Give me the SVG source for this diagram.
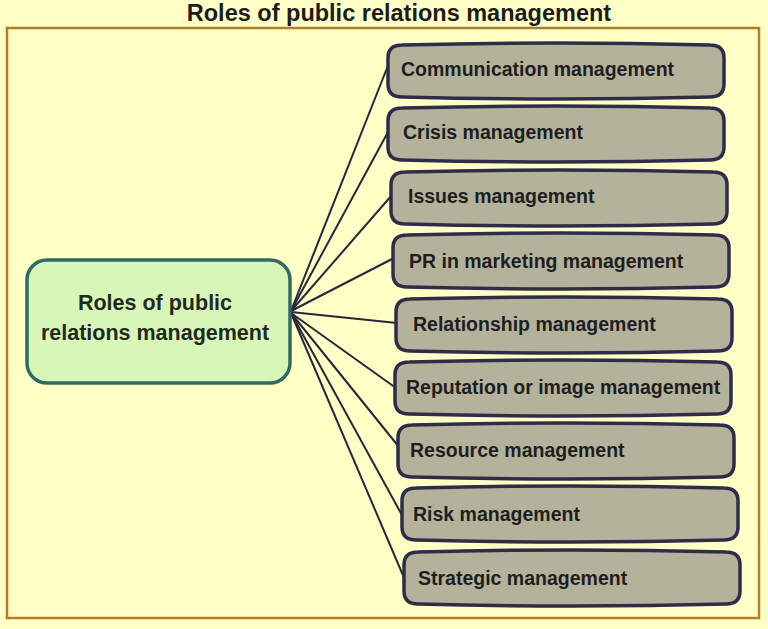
<svg xmlns="http://www.w3.org/2000/svg" xmlns:xlink="http://www.w3.org/1999/xlink" width="768" height="629" viewBox="0 0 768 629">
  <style>
    .title { font-family: "Liberation Sans", Arial, sans-serif; font-weight: bold; font-size: 23.5px; fill: #1c1c1c; }
    .center-text { font-family: "Liberation Sans", Arial, sans-serif; font-weight: bold; font-size: 21.5px; fill: #1e2a1e; }
    .leaf-text { font-family: "Liberation Sans", Arial, sans-serif; font-weight: bold; font-size: 19.5px; fill: #1e1e1e; }
    .leaf { fill: #b5b29c; stroke: #2d2d4a; stroke-width: 3.5; }
    .conn { stroke: #26263c; stroke-width: 2; fill: none; }
  </style>
  <defs>
    <path id="leafShape" d="M14,0 Q168,-4 322,0 Q336,0 336,13 L336,39 Q336,52 322,52 Q168,56 14,52 Q0,52 0,39 L0,13 Q0,0 14,0 Z"/>
  </defs>

  <rect x="0" y="0" width="768" height="629" fill="#ffffc6"/>
  <rect x="7" y="28" width="752" height="590" fill="#ffffc6" stroke="#b07d2a" stroke-width="2.5"/>
  <text class="title" x="399" y="21" text-anchor="middle">Roles of public relations management</text>

  <g id="connectors">
    <line class="conn" x1="291" y1="311" x2="389" y2="63"/>
    <line class="conn" x1="291" y1="311" x2="388" y2="132"/>
    <line class="conn" x1="291" y1="311" x2="392" y2="195"/>
    <line class="conn" x1="291" y1="311" x2="394" y2="258"/>
    <line class="conn" x1="291" y1="312" x2="397" y2="323"/>
    <line class="conn" x1="291" y1="313" x2="396" y2="388"/>
    <line class="conn" x1="291" y1="313" x2="399" y2="447"/>
    <line class="conn" x1="291" y1="313" x2="403" y2="517"/>
    <line class="conn" x1="291" y1="313" x2="405" y2="580"/>
  </g>

  <g id="center-node">
    <rect x="27" y="260" width="263" height="123" rx="20" ry="20" fill="#d9f6b9" stroke="#2f6b62" stroke-width="3.5"/>
    <text class="center-text" x="155" y="310" text-anchor="middle">Roles of public</text>
    <text class="center-text" x="155" y="340" text-anchor="middle">relations management</text>
  </g>

  <g id="node-communication">
    <use xlink:href="#leafShape" class="leaf" transform="translate(388,45)"/>
    <text class="leaf-text" x="401" y="76">Communication management</text>
  </g>
  <g id="node-crisis">
    <use xlink:href="#leafShape" class="leaf" transform="translate(388,108)"/>
    <text class="leaf-text" x="403" y="139">Crisis management</text>
  </g>
  <g id="node-issues">
    <use xlink:href="#leafShape" class="leaf" transform="translate(391,172)"/>
    <text class="leaf-text" x="408" y="203">Issues management</text>
  </g>
  <g id="node-pr-marketing">
    <use xlink:href="#leafShape" class="leaf" transform="translate(393,235)"/>
    <text class="leaf-text" x="409" y="268">PR in marketing management</text>
  </g>
  <g id="node-relationship">
    <use xlink:href="#leafShape" class="leaf" transform="translate(396,299)"/>
    <text class="leaf-text" x="413" y="331">Relationship management</text>
  </g>
  <g id="node-reputation">
    <use xlink:href="#leafShape" class="leaf" transform="translate(395,362)"/>
    <text class="leaf-text" x="406" y="394">Reputation or image management</text>
  </g>
  <g id="node-resource">
    <use xlink:href="#leafShape" class="leaf" transform="translate(398,425)"/>
    <text class="leaf-text" x="410" y="457">Resource management</text>
  </g>
  <g id="node-risk">
    <use xlink:href="#leafShape" class="leaf" transform="translate(402,488)"/>
    <text class="leaf-text" x="413" y="521">Risk management</text>
  </g>
  <g id="node-strategic">
    <use xlink:href="#leafShape" class="leaf" transform="translate(404,552)"/>
    <text class="leaf-text" x="418" y="585">Strategic management</text>
  </g>
</svg>
